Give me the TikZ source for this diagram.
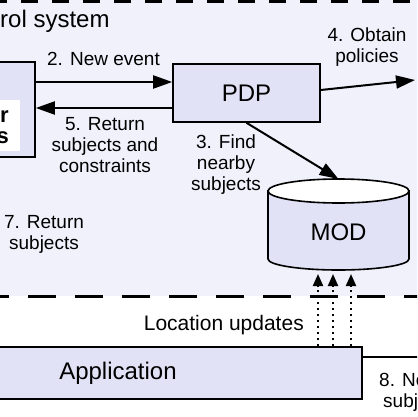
\documentclass[tikz,border=0pt]{standalone}
\usepackage{fontspec}
\setmainfont{Liberation Sans}
\usetikzlibrary{arrows.meta}

\definecolor{sysbg}{RGB}{241,241,252}
\definecolor{boxfill}{RGB}{226,226,246}

\tikzset{
  box/.style={draw, line width=1.6pt, fill=boxfill, inner sep=0pt},
  flow/.style={line width=2pt, -{Triangle[length=19pt,width=13pt]}},
  upd/.style={line width=2pt, dash pattern=on 2pt off 4pt, -{Triangle[length=12pt,width=10pt]}},
  lbl/.style={font=\fontsize{19}{21}\selectfont, align=center, inner sep=0pt},
  big/.style={font=\fontsize{24}{28}\selectfont, inner sep=0pt},
  bound/.style={line width=3pt},
}

\begin{document}
\begin{tikzpicture}[x=1pt, y=1pt]
\useasboundingbox (0,0) rectangle (417,-417);
\clip (0,0) rectangle (417,-417);
%
\fill [sysbg] (-5,5) rectangle (422,-296);
\draw [bound, dash pattern=on 17pt off 14pt, dash phase=8pt] (-2,-1.5) -- (420,-1.5);
\draw [bound, dash pattern=on 28pt off 19pt, dash phase=19pt] (0,-296) -- (420,-296);
\node [big, anchor=base west] (sysname) at (0,-28) {rol system};
%
\node [box, minimum width=55pt, minimum height=95pt] (evh) at (7.5,-109.5) {};
\fill [white] (-5,-100) rectangle (20,-151);
\node [font=\fontsize{22}{21}\bfseries, align=right, inner sep=0pt, anchor=base east] (evhtext) at (9,-143) {r\\s};
%
\node [box, big, minimum width=147pt, minimum height=58pt] (pdp) at (246.5,-93) {PDP};
%
\draw [line width=1.6pt, fill=boxfill] (268,-191) -- (268,-259) arc [start angle=180, end angle=360, x radius=70.5, y radius=11] -- (409,-191) -- cycle;
\draw [line width=1.6pt, fill=white] (338.5,-191) ellipse [x radius=70.5, y radius=12];
\node [big] (mod) at (338.5,-232) {MOD};
\coordinate (modtop) at (338.5,-179);
\coordinate (modin) at (338.5,-274);
%
\node [box, big, minimum width=488pt, minimum height=52pt] (app) at (118,-373) {Application};
%
\draw [flow] (evh.east |- 0,-82) -- (pdp.west |- 0,-82);
\draw [flow] (pdp.west |- 0,-108) -- (evh.east |- 0,-108);
\coordinate (pol) at (415,-80);
\draw [flow] ([yshift=3pt]pdp.east) -- (pol);
\draw [flow] (pdp.south) -- (modtop);
\foreach \px in {318,333,351}
  \draw [upd] (app.north -| \px,0) -- (modin -| \px,0);
\coordinate (notify) at (420,-357);
\draw [line width=2pt] (app.east |- notify) -- (notify);
%
\node [lbl, anchor=base] (lnew) at (103.5,-66) {2. New event};
\node [lbl, anchor=base] (lret) at (105,-172) {5. Return\\subjects and\\constraints};
\node [lbl, anchor=base] (lpol) at (367,-63) {4. Obtain\\policies};
\node [lbl, anchor=base] (lfind) at (226,-190) {3. Find\\nearby\\subjects};
\node [lbl, anchor=base] (lsub) at (44,-249) {7. Return\\subjects};
\node [lbl, font=\fontsize{21}{24}\selectfont, anchor=base east] (lloc) at (304,-330) {Location updates};
\node [lbl, align=left, anchor=base west] (lnot) at (379,-407) {8. Ne\\\hspace*{4pt}subj};
%%%%%%%%%%%%%%%%%%%%%%%%%%%%%%%
\end{tikzpicture}
\end{document}
